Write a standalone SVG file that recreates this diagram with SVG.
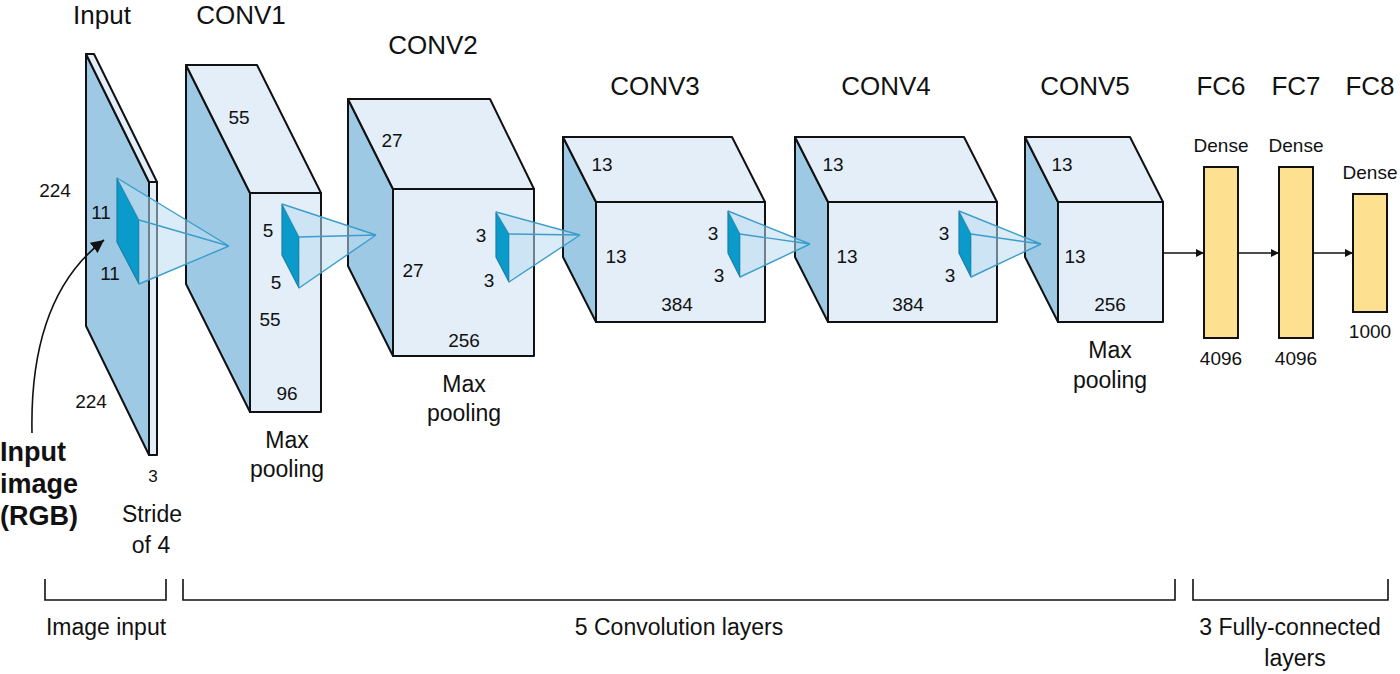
<svg xmlns="http://www.w3.org/2000/svg" width="1400" height="674" viewBox="0 0 1400 674">
<style>
text{font-family:"Liberation Sans",Arial,sans-serif;fill:#111;text-anchor:middle}
.t{font-size:26px}
.n{font-size:19px}
.m{font-size:23px}
.b{font-size:27px;font-weight:bold;text-anchor:start}
.side{fill:#9dc9e5;stroke:#111;stroke-width:2;stroke-linejoin:round}
.face{fill:#e3eef8;stroke:#111;stroke-width:2;stroke-linejoin:round}
.fc{fill:#fde190;stroke:#111;stroke-width:2}
.shell{fill:#b9dcf0;fill-opacity:0.55;stroke:none}
.edge{fill:none;stroke:#3d9dca;stroke-width:1.4}
.dark{fill:#0a9bcb;stroke:#1b7fa9;stroke-width:1.2;stroke-linejoin:round}
.br{fill:none;stroke:#111;stroke-width:1.6}
.ar{fill:none;stroke:#111;stroke-width:1.6}
</style>
<defs>
<marker id="ah" viewBox="0 0 10 10" refX="10" refY="5" markerWidth="8" markerHeight="8" markerUnits="userSpaceOnUse" orient="auto">
<path d="M0,0 L10,5 L0,10 Z" fill="#111"/>
</marker>
<marker id="ah2" viewBox="0 0 10 10" refX="10" refY="5" markerWidth="13" markerHeight="13" markerUnits="userSpaceOnUse" orient="auto">
<path d="M0,0 L10,5 L0,10 Z" fill="#111"/>
</marker>
</defs>

<g id="input">
<text class="t" x="102" y="24">Input</text>
<polygon class="side" points="86,54 149,182 149,455 86,326"/>
<polygon class="face" points="86,54 94,54 157,182 149,182"/>
<rect class="face" x="149" y="182" width="8" height="273"/>
<text class="n" x="55" y="197">224</text>
<text class="n" x="101" y="219">11</text>
<text class="n" x="110" y="280">11</text>
<text class="n" x="91" y="408">224</text>
<text class="n" x="153" y="482" style="font-size:17px">3</text>
<text class="m" x="152" y="522">Stride</text>
<text class="m" x="151" y="553">of 4</text>
</g>

<g id="input-label">
<text class="b" x="0" y="461">Input</text>
<text class="b" x="0" y="493">image</text>
<text class="b" x="0" y="525">(RGB)</text>
</g>

<g id="conv1">
<text class="t" x="241" y="24">CONV1</text>
<polygon class="side" points="186,65 250,193 250,412 186,284"/>
<polygon class="face" points="186,65 257,65 321,193 250,193"/>
<rect class="face" x="250" y="193" width="71" height="219"/>
<text class="n" x="239" y="124">55</text>
<text class="n" x="268" y="237">5</text>
<text class="n" x="276" y="289">5</text>
<text class="n" x="270" y="326">55</text>
<text class="n" x="287" y="400">96</text>
<text class="m" x="287" y="448">Max</text>
<text class="m" x="287" y="477">pooling</text>
</g>

<g id="conv2">
<text class="t" x="433" y="54">CONV2</text>
<polygon class="side" points="348,99 393,189 393,356 348,266"/>
<polygon class="face" points="348,99 490,99 534,189 393,189"/>
<rect class="face" x="393" y="189" width="141" height="167"/>
<text class="n" x="392" y="147">27</text>
<text class="n" x="413" y="277">27</text>
<text class="n" x="481" y="242">3</text>
<text class="n" x="489" y="287">3</text>
<text class="n" x="464" y="347">256</text>
<text class="m" x="464" y="392">Max</text>
<text class="m" x="464" y="421">pooling</text>
</g>

<g id="conv3">
<text class="t" x="655" y="95">CONV3</text>
<polygon class="side" points="563,137 596,202 596,322 563,257"/>
<polygon class="face" points="563,137 732,137 765,202 596,202"/>
<rect class="face" x="596" y="202" width="169" height="120"/>
<text class="n" x="602" y="171">13</text>
<text class="n" x="616" y="263">13</text>
<text class="n" x="713" y="240">3</text>
<text class="n" x="719" y="282">3</text>
<text class="n" x="677" y="311">384</text>
</g>

<g id="conv4">
<text class="t" x="886" y="95">CONV4</text>
<polygon class="side" points="795,137 828,202 828,322 795,257"/>
<polygon class="face" points="795,137 964,137 997,202 828,202"/>
<rect class="face" x="828" y="202" width="169" height="120"/>
<text class="n" x="833" y="171">13</text>
<text class="n" x="847" y="263">13</text>
<text class="n" x="944" y="240">3</text>
<text class="n" x="950" y="282">3</text>
<text class="n" x="908" y="311">384</text>
</g>

<g id="conv5">
<text class="t" x="1085" y="95">CONV5</text>
<polygon class="side" points="1025,137 1058,202 1058,322 1025,257"/>
<polygon class="face" points="1025,137 1130,137 1163,202 1058,202"/>
<rect class="face" x="1058" y="202" width="105" height="120"/>
<text class="n" x="1062" y="171">13</text>
<text class="n" x="1075" y="263">13</text>
<text class="n" x="1110" y="311">256</text>
<text class="m" x="1110" y="358">Max</text>
<text class="m" x="1110" y="388">pooling</text>
</g>

<g id="kernels">
<g id="k-input">
<polygon class="dark" points="117,178 139,220 139,284 117,242"/>
<polygon class="shell" points="117,178 229,246 139,284 139,220"/>
<path class="edge" d="M117,178 L229,246 M139,220 L229,246 M139,284 L229,246"/>
</g>
<g id="k-conv1">
<polygon class="dark" points="282,204 299,237 299,288 282,255"/>
<polygon class="shell" points="282,204 376,235 299,288 299,237"/>
<path class="edge" d="M282,204 L376,235 M299,237 L376,235 M299,288 L376,235"/>
</g>
<g id="k-conv2">
<polygon class="dark" points="496,212 509,234 509,282 496,257"/>
<polygon class="shell" points="496,212 580,235 509,282 509,234"/>
<path class="edge" d="M496,212 L580,235 M509,234 L580,235 M509,282 L580,235"/>
</g>
<g id="k-conv3">
<polygon class="dark" points="728,211 740,234 740,277 728,253"/>
<polygon class="shell" points="728,211 810,244 740,277 740,234"/>
<path class="edge" d="M728,211 L810,244 M740,234 L810,244 M740,277 L810,244"/>
</g>
<g id="k-conv4">
<polygon class="dark" points="959,211 971,234 971,277 959,253"/>
<polygon class="shell" points="959,211 1041,244 971,277 971,234"/>
<path class="edge" d="M959,211 L1041,244 M971,234 L1041,244 M971,277 L1041,244"/>
</g>
</g>

<g id="fc6">
<text class="t" x="1221" y="95">FC6</text>
<text class="n" x="1221" y="152">Dense</text>
<rect class="fc" x="1204" y="167" width="34" height="171"/>
<text class="n" x="1221" y="365">4096</text>
</g>
<g id="fc7">
<text class="t" x="1296" y="95">FC7</text>
<text class="n" x="1296" y="152">Dense</text>
<rect class="fc" x="1279" y="167" width="34" height="171"/>
<text class="n" x="1296" y="365">4096</text>
</g>
<g id="fc8">
<text class="t" x="1370" y="95">FC8</text>
<text class="n" x="1370" y="179">Dense</text>
<rect class="fc" x="1353" y="194" width="34" height="118"/>
<text class="n" x="1370" y="338">1000</text>
</g>

<g id="connectors">
<path class="ar" d="M1163,253 H1204" marker-end="url(#ah)"/>
<path class="ar" d="M1238,253 H1279" marker-end="url(#ah)"/>
<path class="ar" d="M1313,253 H1353" marker-end="url(#ah)"/>
<path class="ar" d="M32,433 C30,335 58,275 104,240" marker-end="url(#ah2)"/>
</g>

<g id="brackets">
<path class="br" d="M45,579 V600 H166 V579"/>
<path class="br" d="M183,579 V600 H1175 V579"/>
<path class="br" d="M1193,579 V600 H1388 V579"/>
<text class="m" x="106" y="635">Image input</text>
<text class="m" x="679" y="635">5 Convolution layers</text>
<text class="m" x="1290" y="635">3 Fully-connected</text>
<text class="m" x="1295" y="666">layers</text>
</g>
</svg>
